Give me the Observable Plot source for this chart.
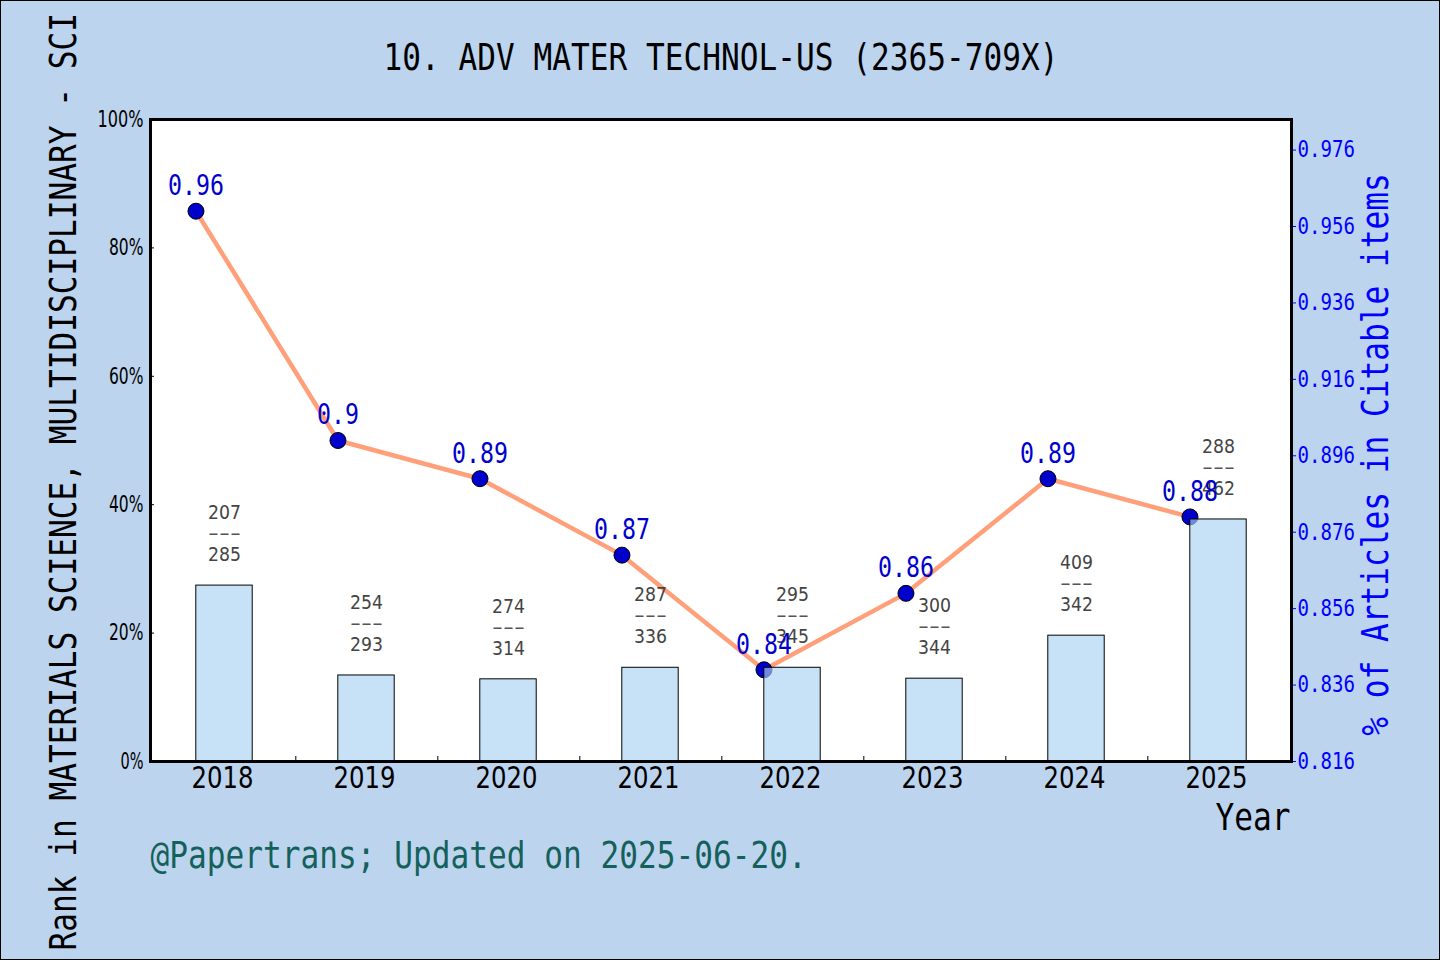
<!DOCTYPE html>
<html><head><meta charset="utf-8">
<script src="https://cdn.jsdelivr.net/npm/d3@7"></script>
<script src="https://cdn.jsdelivr.net/npm/@observablehq/plot@0.6"></script>
<style>
body{margin:0;background:#BDD4EE}
#chart svg{display:block;outline:1px solid #000;outline-offset:-1px}
</style>
</head><body><div id="chart"></div>
<script>
// ---- data ----
const years = ["2018","2019","2020","2021","2022","2023","2024","2025"];
const rankShare = [0.274, 0.134, 0.128, 0.146, 0.146, 0.129, 0.196, 0.377];
const rankNum = [207, 254, 274, 287, 295, 300, 409, 288];
const rankTotal = [285, 293, 314, 336, 345, 344, 342, 462];
const citable = [0.96, 0.90, 0.89, 0.87, 0.84, 0.86, 0.89, 0.88];
const leftTicks = [0, 0.2, 0.4, 0.6, 0.8, 1.0];
const rightTicks = [0.816, 0.836, 0.856, 0.876, 0.896, 0.916, 0.936, 0.956, 0.976];
const rightDomain = [0.816, 0.984];

const title = "10. ADV MATER TECHNOL-US (2365-709X)";
const leftLabel = "Rank in MATERIALS SCIENCE, MULTIDISCIPLINARY - SCI";
const rightLabel = "% of Articles in Citable items";
const xLabel = "Year";
const footnote = "@Papertrans; Updated on 2025-06-20.";

// ---- dual-axis mapping ----
const toLeft = v => (v - rightDomain[0]) / (rightDomain[1] - rightDomain[0]);
const fromLeft = d => d * (rightDomain[1] - rightDomain[0]) + rightDomain[0];

const rows = years.map((year, i) => ({
  year, share: rankShare[i], num: rankNum[i], total: rankTotal[i],
  cit: citable[i], citY: toLeft(citable[i])
}));

const W = 1440, H = 960, mL = 150, mR = 149, mT = 119, mB = 199;
const bw = (W - mL - mR) / years.length;
const barInset = bw * 0.3;
const half = bw * 0.2;
const MONO = "DejaVu Sans Mono", SANS = "DejaVu Sans";
const BIG = 37.5;

const plot = Plot.plot({
  width: W, height: H,
  marginLeft: mL, marginRight: mR, marginTop: mT, marginBottom: mB,
  style: {background: "#BDD4EE", color: "black", fontFamily: SANS, overflow: "visible"},
  x: {type: "band", domain: years, padding: 0, label: null},
  y: {domain: [0, 1], label: null},
  marks: [
    Plot.frame({fill: "white", stroke: "none"}),
    Plot.lineY(rows, {x: "year", y: "citY", stroke: "#FFA07A", strokeWidth: 4.5, dx: -half}),
    Plot.dot(rows, {x: "year", y: "citY", r: 8, fill: "#0000CD", stroke: "black", strokeWidth: 1, dx: -half}),
    Plot.barY(rows, {x: "year", y: "share", fill: "#A9D2F3", fillOpacity: 0.65, stroke: "black", strokeWidth: 1, insetLeft: barInset, insetRight: barInset}),
    Plot.text(rows, {x: "year", y: "share", text: d => String(d.num), dy: -73, fill: "#444", fontSize: 20, fontFamily: SANS}),
    Plot.text(rows, {x: "year", y: "share", text: () => "---", dy: -52, fill: "#555", fontSize: 20, fontFamily: SANS}),
    Plot.text(rows, {x: "year", y: "share", text: d => String(d.total), dy: -31, fill: "#444", fontSize: 20, fontFamily: SANS}),
    Plot.text(rows, {x: "year", y: "citY", text: d => String(d.cit), dx: -half, dy: -25, fill: "#0000CD", fontSize: 28, fontFamily: MONO}),
    // left axis: labels + inward ticks
    Plot.axisY({anchor: "left", ticks: leftTicks, tickSize: 0, tickPadding: 7, tickFormat: d3.format(".0%"), fontSize: 23, fontFamily: SANS, label: null}),
    Plot.axisY({anchor: "left", ticks: leftTicks, tickSize: 4, dx: 4, fill: null, label: null}),
    // right axis
    Plot.axisY({anchor: "right", ticks: rightTicks.map(toLeft), tickFormat: d => fromLeft(d).toFixed(3), tickSize: 4, tickPadding: 2, color: "#0000FF", fontSize: 23, fontFamily: MONO, label: null}),
    // x axis labels + band boundary ticks
    Plot.axisX({ticks: years, tickSize: 0, tickPadding: 4, dx: -2, fontSize: 31, fontFamily: SANS, label: null}),
    Plot.axisX({ticks: years.slice(0, -1), tickSize: 5, dx: bw / 2, dy: -5, fill: null, label: null}),
    Plot.frame({stroke: "black", strokeWidth: 3}),
    // titles & labels
    Plot.text([title], {frameAnchor: "top", lineAnchor: "middle", dy: -62, fontSize: BIG, fontFamily: MONO, fill: "black"}),
    Plot.text([leftLabel], {frameAnchor: "bottom-left", lineAnchor: "middle", rotate: -90, textAnchor: "start", dx: -87, dy: 189, fontSize: BIG, fontFamily: MONO, fill: "black"}),
    Plot.text([rightLabel], {frameAnchor: "right", lineAnchor: "middle", rotate: -90, textAnchor: "middle", dx: 84, dy: 14, fontSize: BIG, fontFamily: MONO, fill: "#0000FF"}),
    Plot.text([xLabel], {frameAnchor: "bottom-right", lineAnchor: "middle", textAnchor: "end", dx: -1, dy: 56, fontSize: BIG, fontFamily: MONO, fill: "black"}),
    Plot.text([footnote], {frameAnchor: "bottom-left", lineAnchor: "middle", textAnchor: "start", dx: 0, dy: 94, fontSize: BIG, fontFamily: MONO, fill: "#13615A"})
  ]
});

document.getElementById("chart").append(plot);

// narrow the glyphs to the half-width advance of the reference font
const ADV = {20: 0.55};
plot.querySelectorAll("text").forEach(t => {
  if (t.querySelector("tspan")) return;
  const n = [...t.textContent].length;
  if (!n) return;
  const f = parseFloat(getComputedStyle(t).fontSize);
  const adv = ADV[f] ?? 0.5;
  t.setAttribute("textLength", n * f * adv);
  t.setAttribute("lengthAdjust", "spacingAndGlyphs");
});
</script>
</body></html>
